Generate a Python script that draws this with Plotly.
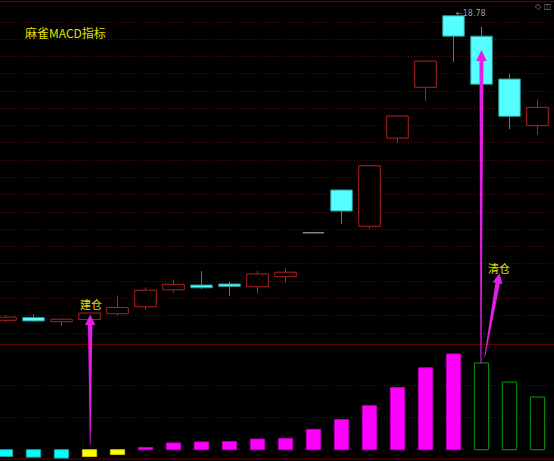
import math
import plotly.graph_objects as go

# ---------------- data ----------------
days = list(range(20))
open_ = [9.97, 10.05, 9.93, 9.99, 10.16, 10.36, 10.85, 10.99, 11.02, 10.94,
         11.23, 12.50, 13.74, 12.69, 15.24, 16.71, 18.78, 18.19, 16.95, 15.60]
high = [10.12, 10.15, 10.03, 10.18, 10.69, 10.92, 11.13, 11.39, 11.08, 11.40,
        11.47, 12.50, 13.75, 14.44, 15.88, 17.47, 18.78, 18.46, 17.10, 16.36]
low = [9.92, 9.92, 9.81, 9.98, 10.10, 10.27, 10.77, 10.87, 10.68, 10.74,
       11.05, 12.50, 12.75, 12.62, 15.11, 16.32, 17.45, 16.75, 15.50, 15.34]
close = [10.06, 9.95, 10.00, 10.18, 10.34, 10.84, 11.01, 10.91, 10.95, 11.31,
         11.36, 12.50, 13.13, 14.44, 15.88, 17.47, 18.19, 16.80, 15.87, 16.13]
macd = [-0.021, -0.023, -0.026, -0.021, -0.015, 0.007, 0.021, 0.024, 0.025, 0.033,
        0.035, 0.063, 0.093, 0.136, 0.192, 0.253, 0.296, 0.268, 0.209, 0.163]

title_text = "麻雀MACD指标"
buy_text = "建仓"
sell_text = "清仓"
buy_day, sell_day = 3, 17

# ---------------- layout geometry ----------------
W, H = 554, 461
X0 = 5.5          # pixel centre of first candle
STEP = 28.0       # pixels per day
xr = [-X0 / STEP, (W - X0) / STEP]

PX_PER_PRICE = 17.28 / 0.5
REF_PRICE, REF_PY = 18.6, 22.0
up_top_py, up_bot_py = 6.0, 344.3
up_range = [REF_PRICE - (up_bot_py - REF_PY) / PX_PER_PRICE,
            REF_PRICE + (REF_PY - up_top_py) / PX_PER_PRICE]
up_dom = [1 - up_bot_py / H, 1 - up_top_py / H]

PX_PER_MACD = 323.5
ZERO_PY = 449.7
lo_top_py, lo_bot_py = 344.3, 459.0
lo_range = [-(lo_bot_py - ZERO_PY) / PX_PER_MACD, (ZERO_PY - lo_top_py) / PX_PER_MACD]
lo_dom = [1 - lo_bot_py / H, 1 - lo_top_py / H]


def px_x(x):
    return (x - xr[0]) / (xr[1] - xr[0]) * W


def px_price(p):
    paper = up_dom[0] + (p - up_range[0]) / (up_range[1] - up_range[0]) * (up_dom[1] - up_dom[0])
    return H * (1 - paper)


def px_macd(v):
    paper = lo_dom[0] + (v - lo_range[0]) / (lo_range[1] - lo_range[0]) * (lo_dom[1] - lo_dom[0])
    return H * (1 - paper)


RED = "#b3211f"
CYAN = "#55ffff"
CYAN_EDGE = "#2c8f8f"
DOJI = "#c4c4c4"
MAGENTA = "#ff00ff"
ARROW = "#e41ee4"
YEL = "#e0e000"
GRID = "#5c0a0a"
FRAME = "#7a0000"

fig = go.Figure()

# ---------------- candles ----------------
up_idx = [i for i in days if close[i] > open_[i]]
dn_idx = [i for i in days if close[i] < open_[i]]
dj_idx = [i for i in days if close[i] == open_[i]]


def wicks(idx):
    xs, ys = [], []
    for i in idx:
        top, bot = max(open_[i], close[i]), min(open_[i], close[i])
        if high[i] > top:
            xs += [i, i, None]
            ys += [high[i], top, None]
        if low[i] < bot:
            xs += [i, i, None]
            ys += [bot, low[i], None]
    return xs, ys


for idx, col in ((up_idx, RED), (dn_idx, CYAN_EDGE)):
    wx, wy = wicks(idx)
    fig.add_trace(go.Scatter(x=wx, y=wy, mode="lines", line=dict(color=col, width=1),
                             hoverinfo="skip", xaxis="x", yaxis="y"))

fig.add_trace(go.Bar(
    x=up_idx, y=[close[i] - open_[i] for i in up_idx], base=[open_[i] for i in up_idx],
    width=0.77, marker=dict(color="#000000", line=dict(color=RED, width=1)),
    xaxis="x", yaxis="y", hoverinfo="skip"))
fig.add_trace(go.Bar(
    x=dn_idx, y=[open_[i] - close[i] for i in dn_idx], base=[close[i] for i in dn_idx],
    width=0.77, marker=dict(color=CYAN, line=dict(color=CYAN_EDGE, width=1)),
    xaxis="x", yaxis="y", hoverinfo="skip"))

dx, dy = [], []
for i in dj_idx:
    dx += [i - 0.38, i + 0.38, None]
    dy += [open_[i], open_[i], None]
fig.add_trace(go.Scatter(x=dx, y=dy, mode="lines", line=dict(color=DOJI, width=1),
                         hoverinfo="skip", xaxis="x", yaxis="y"))

# ---------------- MACD bars ----------------
fill_cols, line_cols = [], []
for i, v in enumerate(macd):
    prev = macd[i - 1] if i > 0 else None
    if v >= 0:
        if prev is None or v >= prev:
            fill_cols.append(MAGENTA); line_cols.append("#c000c0")
        else:
            fill_cols.append("#000000"); line_cols.append("#0c9a0c")
    else:
        if prev is None or v <= prev:
            fill_cols.append("#00ffff"); line_cols.append("#10a8a8")
        else:
            fill_cols.append("#ffff00"); line_cols.append("#c8c800")

fig.add_trace(go.Bar(x=days, y=macd, width=0.51,
                     marker=dict(color=fill_cols, line=dict(color=line_cols, width=1)),
                     xaxis="x", yaxis="y2", hoverinfo="skip"))

# ---------------- arrows (tapered polygons) ----------------


def arrow_shape(tail, tip, head_len, head_half, shaft_half, tail_half):
    (tx, ty), (hx, hy) = tail, tip
    L = math.hypot(hx - tx, hy - ty)
    ux, uy = (hx - tx) / L, (hy - ty) / L
    nx, ny = -uy, ux
    bx, by = hx - ux * head_len, hy - uy * head_len
    pts = [(tx + nx * tail_half, ty + ny * tail_half),
           (bx + nx * shaft_half, by + ny * shaft_half),
           (bx + nx * head_half, by + ny * head_half),
           (hx, hy),
           (bx - nx * head_half, by - ny * head_half),
           (bx - nx * shaft_half, by - ny * shaft_half),
           (tx - nx * tail_half, ty - ny * tail_half)]
    path = "M " + " L ".join(f"{x / W:.5f},{1 - y / H:.5f}" for x, y in pts) + " Z"
    return dict(type="path", xref="paper", yref="paper", path=path,
                fillcolor=ARROW, line=dict(width=0), layer="above")


shapes = []
shapes.append(arrow_shape((px_x(buy_day + 0.025), px_macd(0.015)),
                          (px_x(buy_day + 0.025), px_price(10.14)), 10.7, 5.2, 2.2, 0.4))
shapes.append(arrow_shape((px_x(sell_day - 0.02), px_macd(macd[sell_day])),
                          (px_x(sell_day - 0.0), px_price(17.79)), 11.0, 5.3, 2.0, 0.5))
shapes.append(arrow_shape((px_x(sell_day + 0.114), px_macd(0.2875)),
                          (px_x(sell_day + 0.64), px_price(11.33)), 10.0, 5.0, 2.3, 0.4))

# frame lines
for ypx in (1.7, up_bot_py, lo_bot_py):
    shapes.append(dict(type="line", xref="paper", yref="paper", x0=0, x1=1,
                       y0=1 - ypx / H, y1=1 - ypx / H, line=dict(color=FRAME, width=1),
                       layer="below"))

# ---------------- annotations ----------------
cjk = "Noto Sans CJK SC"
annotations = [
    dict(text=title_text, xref="paper", yref="paper", x=22.5 / W, y=1 - 32.3 / H,
         xanchor="left", yanchor="middle", showarrow=False,
         font=dict(family=cjk, size=12, color=YEL)),
    dict(text=buy_text, xref="x", yref="y", x=buy_day + 0.05, y=10.43,
         xanchor="center", yanchor="middle", showarrow=False,
         font=dict(family=cjk, size=11, color=YEL)),
    dict(text=sell_text, xref="x", yref="y", x=sell_day + 0.61, y=11.47,
         xanchor="center", yanchor="middle", showarrow=False,
         font=dict(family=cjk, size=11, color=YEL)),
    dict(text="←" + f"{max(high):.2f}", xref="x", yref="y", x=high.index(max(high)), y=max(high),
         xanchor="left", yanchor="middle", yshift=2, showarrow=False,
         font=dict(family="DejaVu Sans", size=8, color="#9a9a9a")),
    dict(text="◇ ◫", xref="paper", yref="paper", x=0.998, y=1 - 6.5 / H,
         xanchor="right", yanchor="middle", showarrow=False,
         font=dict(family="DejaVu Sans", size=8, color="#8c8c8c")),
]

fig.update_layout(
    width=W, height=H,
    margin=dict(l=0, r=0, t=0, b=0, pad=0),
    paper_bgcolor="#000000", plot_bgcolor="#000000",
    showlegend=False, barmode="overlay", hovermode=False,
    shapes=shapes, annotations=annotations,
    xaxis=dict(range=xr, domain=[0, 1], showgrid=False, zeroline=False,
               showticklabels=False, showline=False, ticks=""),
    yaxis=dict(range=up_range, domain=up_dom, anchor="x",
               tickvals=[REF_PRICE - 0.5 * n for n in range(19)],
               showgrid=True, gridcolor=GRID, griddash="1px,2px", gridwidth=1,
               zeroline=False, showticklabels=False, showline=False, ticks=""),
    yaxis2=dict(range=lo_range, domain=lo_dom, anchor="x",
                tickvals=[0.1, 0.2],
                showgrid=True, gridcolor=GRID, griddash="1px,2px", gridwidth=1,
                zeroline=False, showticklabels=False, showline=False, ticks=""),
)

fig.write_html(
    "out.html",
    config={"displayModeBar": False, "staticPlot": True},
    post_script="document.documentElement.style.margin='0';document.body.style.margin='0';"
                "document.body.style.padding='0';document.body.style.background='#000';"
                "document.body.style.overflow='hidden';",
)
